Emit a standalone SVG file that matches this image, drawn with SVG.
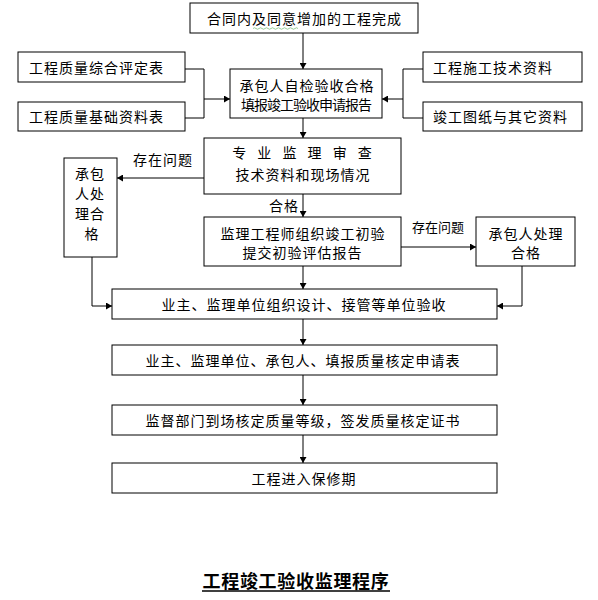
<svg xmlns="http://www.w3.org/2000/svg" width="598" height="600" viewBox="0 0 598 600">
<style>
  .box { fill: #ffffff; stroke: #000000; stroke-width: 1; }
  .t { font-family: "Noto Sans CJK SC", "Noto Sans CJK JP", sans-serif; font-size: 14px; letter-spacing: 1px; fill: #000000; }
  .m { text-anchor: middle; }
  .s { text-anchor: start; }
  .e { text-anchor: end; }
  .c { fill: none; stroke: #000000; stroke-width: 1; }
  .title { font-family: "Noto Sans CJK SC", "Noto Sans CJK JP", sans-serif; font-size: 18px; font-weight: bold; letter-spacing: 0.7px; fill: #000000; text-anchor: middle; }
</style>
<defs>
  <marker id="arr" markerUnits="userSpaceOnUse" markerWidth="7" markerHeight="7" refX="6" refY="3.5" orient="auto">
    <path d="M0,0 L6,3.5 L0,7 z" fill="#000000"/>
  </marker>
</defs>
<rect x="0" y="0" width="598" height="600" fill="#ffffff"/>

<g id="connectors">
  <path class="c" d="M303,33 V69" marker-end="url(#arr)"/>
  <path class="c" d="M185,69 H204 V118 H185"/>
  <path class="c" d="M204,99 H230" marker-end="url(#arr)"/>
  <path class="c" d="M423,69 H403 V118 H423"/>
  <path class="c" d="M403,99 H382" marker-end="url(#arr)"/>
  <path class="c" d="M303,118 V138" marker-end="url(#arr)"/>
  <path class="c" d="M204,178 H117" marker-end="url(#arr)"/>
  <path class="c" d="M303,194 V217" marker-end="url(#arr)"/>
  <path class="c" d="M401,247 H476" marker-end="url(#arr)"/>
  <path class="c" d="M303,266 V289" marker-end="url(#arr)"/>
  <path class="c" d="M92,257 V306 H112" marker-end="url(#arr)"/>
  <path class="c" d="M522,266 V306 H497" marker-end="url(#arr)"/>
  <path class="c" d="M303,319 V345" marker-end="url(#arr)"/>
  <path class="c" d="M303,375 V405" marker-end="url(#arr)"/>
  <path class="c" d="M303,435 V463" marker-end="url(#arr)"/>
  <text class="t m" x="163" y="165">存在问题</text>
  <text class="t e" x="299" y="211">合格</text>
  <text class="t m" x="438" y="232" style="font-size:13px;letter-spacing:0px">存在问题</text>
</g>

<g id="n-start">
  <rect class="box" x="190" y="3" width="228" height="30"/>
  <text class="t m" x="304.5" y="23.5">合同内及同意增加的工程完成</text>
  <path d="M253,28.5 q1.5,-1.5 3,0 t3,0 t3,0 t3,0 t3,0 t3,0 t3,0 t3,0 t3,0 t3,0 t3,0 t3,0 t3,0 t3,0 t3,0" fill="none" stroke="#7fbf7f" stroke-width="0.8"/>
</g>

<g id="n-eval">
  <rect class="box" x="18" y="52" width="167" height="30"/>
  <text class="t s" x="29" y="73">工程质量综合评定表</text>
</g>

<g id="n-base">
  <rect class="box" x="18" y="102" width="167" height="29"/>
  <text class="t s" x="29" y="122">工程质量基础资料表</text>
</g>

<g id="n-selfcheck">
  <rect class="box" x="230" y="69" width="152" height="49"/>
  <text class="t m" x="307" y="91">承包人自检验收合格</text>
  <text class="t m" x="306" y="109.5" style="letter-spacing:-1px">填报竣工验收申请报告</text>
</g>

<g id="n-tech">
  <rect class="box" x="423" y="52" width="159" height="30"/>
  <text class="t s" x="433" y="73">工程施工技术资料</text>
</g>

<g id="n-drawings">
  <rect class="box" x="423" y="102" width="159" height="29"/>
  <text class="t s" x="433" y="122">竣工图纸与其它资料</text>
</g>

<g id="n-review">
  <rect class="box" x="204" y="138" width="197" height="56"/>
  <text class="t m" x="304" y="158" style="letter-spacing:4px">专 业 监 理 审 查</text>
  <text class="t m" x="303" y="179.5">技术资料和现场情况</text>
</g>

<g id="n-fix-left">
  <rect class="box" x="64" y="158" width="53" height="99"/>
  <text class="t m" x="92">
    <tspan x="92" y="179">承包</tspan>
    <tspan x="92" y="199">人处</tspan>
    <tspan x="92" y="219">理合</tspan>
    <tspan x="92" y="238.5">格</tspan>
  </text>
</g>

<g id="n-initial">
  <rect class="box" x="204" y="217" width="197" height="49"/>
  <text class="t m" x="303" y="238.5">监理工程师组织竣工初验</text>
  <text class="t m" x="302.5" y="257.5">提交初验评估报告</text>
</g>

<g id="n-fix-right">
  <rect class="box" x="476" y="217" width="99" height="49"/>
  <text class="t m" x="526" y="238.5">承包人处理</text>
  <text class="t m" x="526" y="257.5">合格</text>
</g>

<g id="n-owner">
  <rect class="box" x="112" y="289" width="385" height="30"/>
  <text class="t m" x="304" y="310">业主、监理单位组织设计、接管等单位验收</text>
</g>

<g id="n-apply">
  <rect class="box" x="112" y="345" width="385" height="30"/>
  <text class="t m" x="303" y="366">业主、监理单位、承包人、填报质量核定申请表</text>
</g>

<g id="n-supervise">
  <rect class="box" x="112" y="405" width="385" height="30"/>
  <text class="t m" x="303" y="425.5">监督部门到场核定质量等级，签发质量核定证书</text>
</g>

<g id="n-warranty">
  <rect class="box" x="112" y="463" width="385" height="30"/>
  <text class="t m" x="304" y="484">工程进入保修期</text>
</g>

<g id="title">
  <text class="title" x="296" y="588">工程竣工验收监理程序</text>
  <line x1="202" y1="591" x2="390" y2="591" stroke="#000000" stroke-width="1.5"/>
</g>
</svg>
